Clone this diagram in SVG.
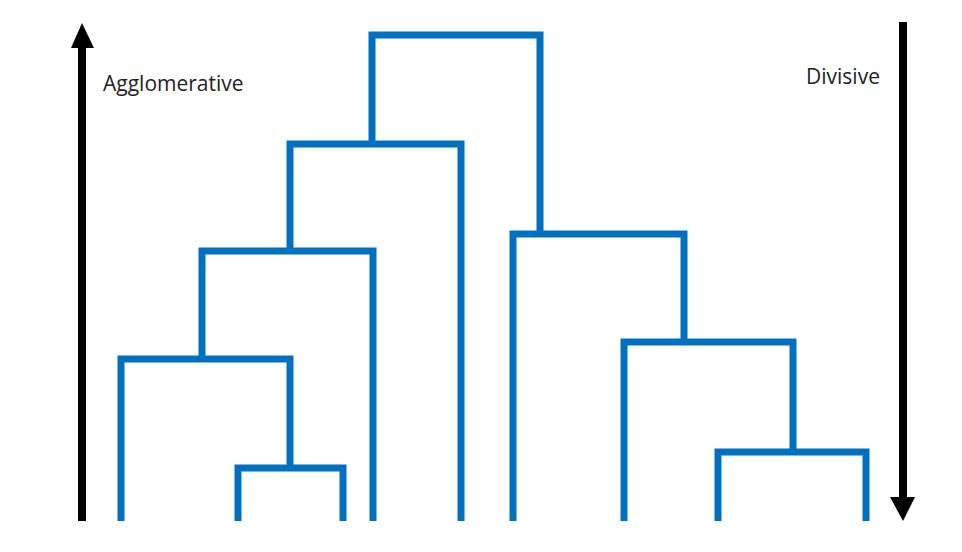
<svg xmlns="http://www.w3.org/2000/svg" width="962" height="552" viewBox="0 0 962 552">
<style>
.link{fill:none;stroke:#0070C0;stroke-width:7;stroke-linejoin:miter;stroke-linecap:butt}
.axis{stroke:#000;stroke-width:8;fill:none}
.head{fill:#000}
.lbl{font-family:"Open Sans","Liberation Sans",sans-serif;font-size:21px;fill:#222}
</style>
<rect width="962" height="552" fill="#fff"/>
<g id="connectors">
<path class="link" d="M372,144 V35 H540 V234"/>
<path class="link" d="M290,251 V144 H461 V521"/>
<path class="link" d="M202,359 V251 H373 V521"/>
<path class="link" d="M121,521 V359 H290 V468"/>
<path class="link" d="M238,521 V468 H343 V521"/>
<path class="link" d="M513,521 V234 H684 V342"/>
<path class="link" d="M624,521 V342 H793 V452"/>
<path class="link" d="M718,521 V452 H866 V521"/>
</g>
<g id="agglomerative">
<line class="axis" x1="82" y1="521" x2="82" y2="44"/>
<polygon class="head" points="82,23 71,48 94,48"/>
<text class="lbl" x="103" y="91">Agglomerative</text>
</g>
<g id="divisive">
<line class="axis" x1="903" y1="22" x2="903" y2="500"/>
<polygon class="head" points="903,521 890,497 915,497"/>
<text class="lbl" x="806" y="84">Divisive</text>
</g>
</svg>
